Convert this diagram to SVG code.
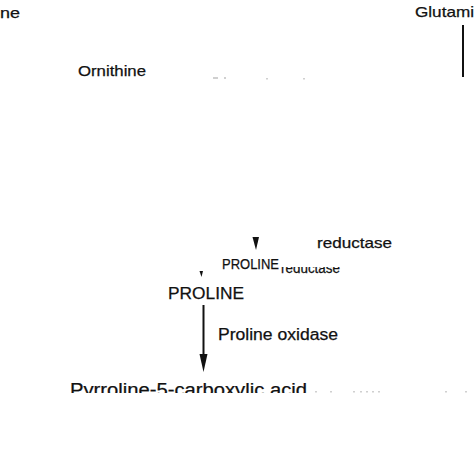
<svg xmlns="http://www.w3.org/2000/svg" width="474" height="474" viewBox="0 0 474 474">
<style>
.t{font-family:"Liberation Sans","DejaVu Sans",sans-serif;fill:#111;stroke:#111;stroke-width:0.25;}
.faint{fill:#d0d0d0;}
</style>
<defs>
<clipPath id="clipTop"><rect x="0" y="267" width="474" height="20"/></clipPath>
<clipPath id="clipBottom"><rect x="0" y="370" width="474" height="23"/></clipPath>
</defs>
<rect width="474" height="474" fill="#fff"/>
<g id="node-ne"><text class="t" x="0" y="18" font-size="14" textLength="20" lengthAdjust="spacingAndGlyphs">ne</text></g>
<g id="node-ornithine"><text class="t" x="78" y="76" font-size="15" textLength="68" lengthAdjust="spacingAndGlyphs">Ornithine</text></g>
<g id="node-glutami"><text class="t" x="415" y="17" font-size="15" textLength="59" lengthAdjust="spacingAndGlyphs">Glutami</text></g>
<g id="node-reductase"><text class="t" x="317" y="248" font-size="15" textLength="75" lengthAdjust="spacingAndGlyphs">reductase</text></g>
<g id="node-proline-upper"><text class="t" x="222" y="269" font-size="14" textLength="57" lengthAdjust="spacingAndGlyphs">PROLINE</text></g>
<g id="node-reductase-clipped" clip-path="url(#clipTop)"><text class="t" x="281" y="273" font-size="14" textLength="59" lengthAdjust="spacingAndGlyphs">reductase</text></g>
<g id="node-proline"><text class="t" x="168" y="299" font-size="16.5" textLength="76" lengthAdjust="spacingAndGlyphs">PROLINE</text></g>
<g id="node-proline-oxidase"><text class="t" x="218" y="340" font-size="16" textLength="120" lengthAdjust="spacingAndGlyphs">Proline oxidase</text></g>
<g id="node-p5c" clip-path="url(#clipBottom)"><text class="t" x="70" y="396" font-size="18" textLength="237" lengthAdjust="spacingAndGlyphs">Pyrroline-5-carboxylic acid</text></g>
<g id="connectors" fill="#111" stroke="#111">
<line x1="463" y1="25" x2="463" y2="77" stroke-width="2"/>
<polygon points="252.5,237 259,237 256,250" stroke="none"/>
<polygon points="199.5,271 203,271 201.5,277" stroke="none"/>
<line x1="203.5" y1="305" x2="203.5" y2="358" stroke-width="2"/>
<polygon points="199.5,354 207.5,354 203.5,372" stroke="none"/>
</g>
<g id="faint-marks" class="faint">
<rect x="213" y="77" width="5" height="2"/>
<rect x="224" y="77" width="2" height="2"/>
<rect x="266" y="78" width="2" height="1.5"/>
<rect x="303" y="78" width="2" height="1.5"/>
<rect x="315" y="391" width="2" height="1.5"/>
<rect x="330" y="391" width="2" height="1.5"/>
<rect x="353" y="391" width="2" height="1.5"/>
<rect x="360" y="391" width="2" height="1.5"/>
<rect x="366" y="391" width="2" height="1.5"/>
<rect x="372" y="391" width="2" height="1.5"/>
<rect x="378" y="391" width="2" height="1.5"/>
<rect x="445" y="391" width="2" height="1.5"/>
<rect x="465" y="391" width="2" height="1.5"/>
</g>
</svg>
